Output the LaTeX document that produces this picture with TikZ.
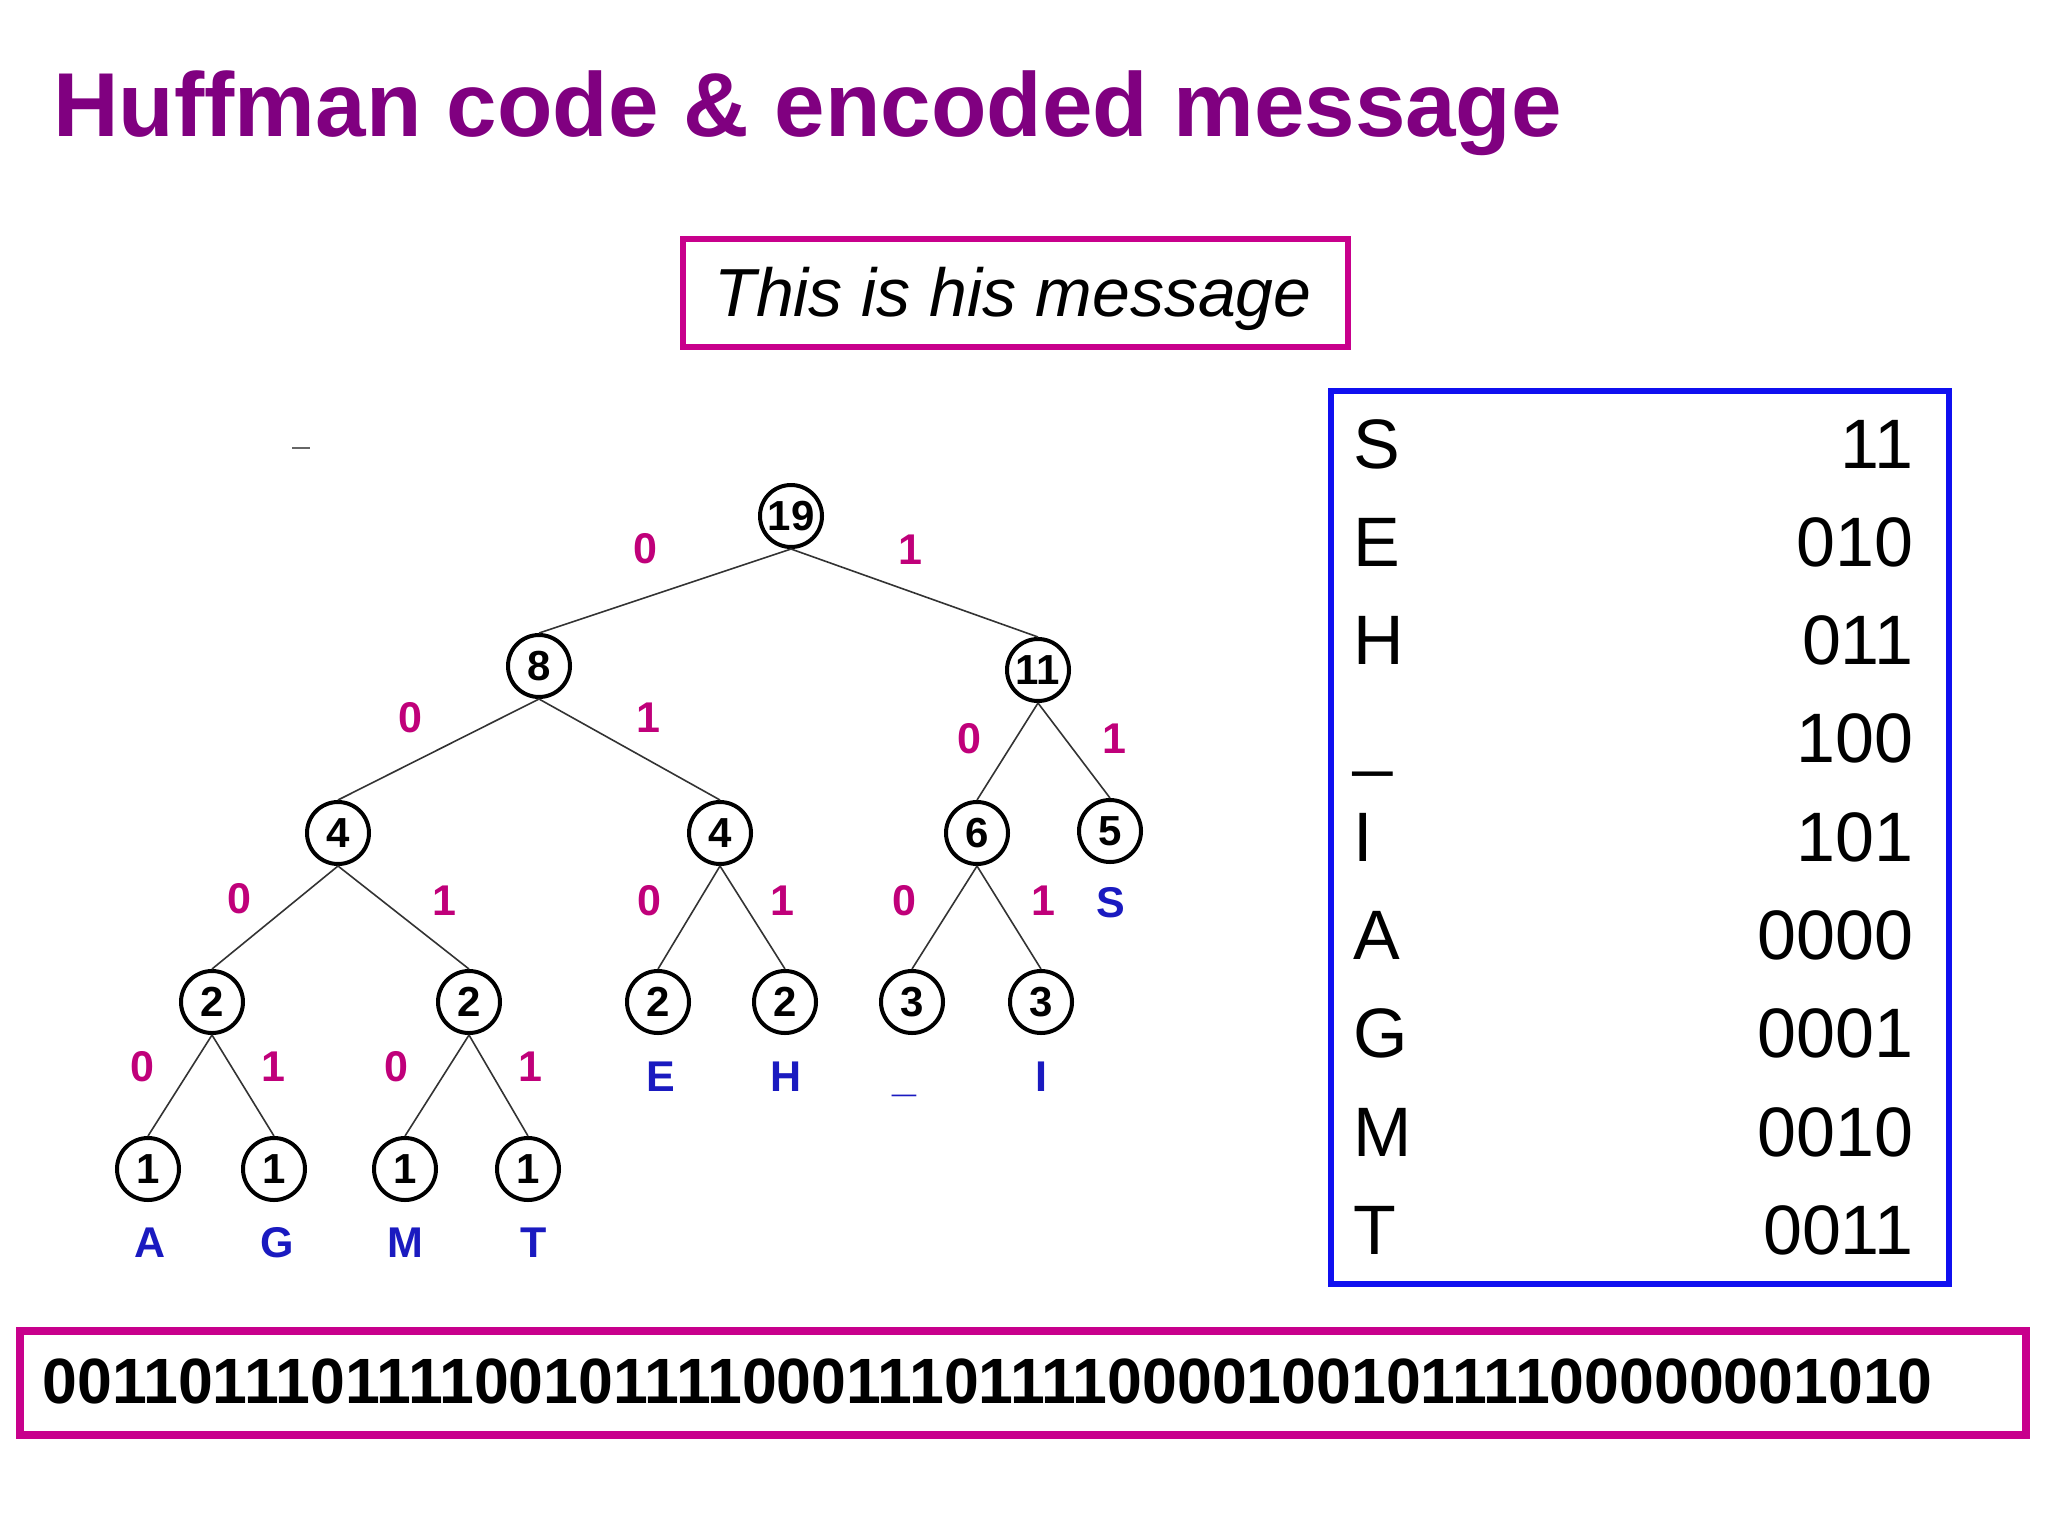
\documentclass[tikz,border=0pt]{standalone}
\usepackage{fontspec}
\setmainfont{Liberation Sans}
\definecolor{titlepurple}{HTML}{800080}
\definecolor{boxmag}{HTML}{C8008C}
\definecolor{labmag}{HTML}{C0007A}
\definecolor{letblue}{HTML}{1A1AC0}
\definecolor{boxblue}{HTML}{1010F0}
\definecolor{edgegray}{HTML}{333333}
\tikzset{
  tnode/.style={circle, draw=black, line width=2pt, minimum size=31pt, inner sep=0pt,
    font=\fontsize{21}{21}\selectfont\bfseries},
  tedge/.style={draw=edgegray, line width=0.8pt},
  bitlab/.style={text=labmag, inner sep=0pt, font=\fontsize{21.5}{21.5}\selectfont\bfseries},
  letlab/.style={text=letblue, inner sep=0pt, anchor=base, font=\fontsize{21.5}{21.5}\selectfont\bfseries},
  tabtxt/.style={inner sep=0pt, font=\fontsize{35}{35}\selectfont},
  magbox/.style={draw=boxmag, inner sep=0pt},
}
\begin{document}
\begin{tikzpicture}[x=0.5pt,y=-0.5pt]
\useasboundingbox[fill=white] (0,0) rectangle (2048,1536);

% title
\node[anchor=base west, inner sep=0pt, text=titlepurple,
  font=\fontsize{45.4}{45.4}\selectfont\bfseries] (title) at (53,136) {Huffman code \& encoded message};

% message box
\node[magbox, line width=3.25pt, minimum width=332.5pt, minimum height=54pt] (msg) at (1015.5,293) {};
\node[anchor=base, inner sep=0pt, font=\fontsize{34}{34}\selectfont\itshape] (msgtext) at (1013,316) {This is his message};

% stray dash
\draw[black!60, line width=1pt] (292,448) -- (310,448);

% tree nodes
\node[tnode] (n19) at (791,516) {19};
\node[tnode] (n8) at (539,666) {8};
\node[tnode] (n11) at (1038,670) {11};
\node[tnode] (n4a) at (338,833) {4};
\node[tnode] (n4b) at (720,833) {4};
\node[tnode] (n6) at (977,833) {6};
\node[tnode] (n5) at (1110,831) {5};
\node[tnode] (n2a) at (212,1002) {2};
\node[tnode] (n2b) at (469,1002) {2};
\node[tnode] (n2e) at (658,1002) {2};
\node[tnode] (n2h) at (785,1002) {2};
\node[tnode] (n3u) at (912,1002) {3};
\node[tnode] (n3i) at (1041,1002) {3};
\node[tnode] (n1a) at (148,1169) {1};
\node[tnode] (n1g) at (274,1169) {1};
\node[tnode] (n1m) at (405,1169) {1};
\node[tnode] (n1t) at (528,1169) {1};

% tree edges
\foreach \p/\c in {n19/n8, n19/n11, n8/n4a, n8/n4b, n11/n6, n11/n5,
  n4a/n2a, n4a/n2b, n4b/n2e, n4b/n2h, n6/n3u, n6/n3i,
  n2a/n1a, n2a/n1g, n2b/n1m, n2b/n1t}
  \draw[tedge] (\p.south) -- (\c.north);

% edge bit labels
\node[bitlab] (b1) at (645,549) {0};
\node[bitlab] (b2) at (910,550) {1};
\node[bitlab] (b3) at (410,718) {0};
\node[bitlab] (b4) at (648,718) {1};
\node[bitlab] (b5) at (969,739) {0};
\node[bitlab] (b6) at (1114,739) {1};
\node[bitlab] (b7) at (239,899) {0};
\node[bitlab] (b8) at (444,901) {1};
\node[bitlab] (b9) at (649,901) {0};
\node[bitlab] (b10) at (782,901) {1};
\node[bitlab] (b11) at (904,901) {0};
\node[bitlab] (b12) at (1043,901) {1};
\node[bitlab] (b13) at (142,1067) {0};
\node[bitlab] (b14) at (273,1067) {1};
\node[bitlab] (b15) at (396,1067) {0};
\node[bitlab] (b16) at (530,1067) {1};

% letter labels
\node[letlab] (lS) at (1111,917) {S};
\node[letlab] (lE) at (661,1091) {E};
\node[letlab] (lH) at (786,1091) {H};
\node[letlab] (lU) at (904,1091) {\_};
\node[letlab] (lI) at (1041,1091) {I};
\node[letlab] (lA) at (150,1257) {A};
\node[letlab] (lG) at (277,1257) {G};
\node[letlab] (lM) at (405,1257) {M};
\node[letlab] (lT) at (534,1257) {T};

% code table
\node[draw=boxblue, line width=3pt, minimum width=309pt, minimum height=446.5pt, inner sep=0pt] (codes) at (1640,837.5) {};
\foreach \l/\c [count=\i from 0] in {S/11, E/010, H/011, \_/100, I/101, A/0000, G/0001, M/0010, T/0011} {
  \node[tabtxt, anchor=base west] (tl\i) at (1353,{468+98.3*\i}) {\l};
  \node[tabtxt, anchor=base east] (tc\i) at (1914,{468+98.3*\i}) {\c};
}

% encoded message
\node[magbox, line width=4pt, minimum width=1003pt, minimum height=52pt] (bitbox) at (1023,1383) {};
\node[anchor=base west, inner sep=0pt, font=\fontsize{32}{32}\selectfont\bfseries] (bits) at (42,1403)
  {\scalebox{0.978}[1]{00110111011110010111100011101111000010010111100000001010}};
\end{tikzpicture}
\end{document}
